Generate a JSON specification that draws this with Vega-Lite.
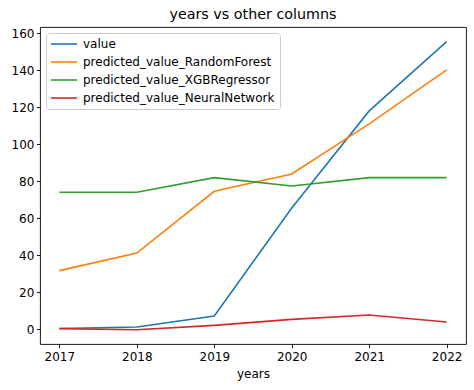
{
  "$schema": "https://vega.github.io/schema/vega-lite/v6.json",
  "width": 426,
  "height": 317,
  "autosize": {"type": "none"},
  "padding": {"left": 40, "top": 27, "right": 8, "bottom": 46},
  "background": "white",
  "title": {"text": "years vs other columns", "fontSize": 14.3, "fontWeight": "normal", "font": "DejaVu Sans", "color": "black", "offset": 5, "anchor": "middle"},
  "config": {
    "view": {"stroke": "black", "strokeWidth": 0.9},
    "axis": {"labelFont": "DejaVu Sans", "titleFont": "DejaVu Sans", "labelFontSize": 12, "titleFontSize": 12, "labelColor": "black", "titleColor": "black", "tickColor": "black", "tickSize": 3.6, "tickWidth": 0.9, "domain": false, "grid": false, "titleFontWeight": "normal"}
  },
  "data": {"values": [
    {"year": 2017, "series": "value", "v": 0.3},
    {"year": 2018, "series": "value", "v": 1.1},
    {"year": 2019, "series": "value", "v": 7.0},
    {"year": 2020, "series": "value", "v": 65.5},
    {"year": 2021, "series": "value", "v": 118},
    {"year": 2022, "series": "value", "v": 155.5},
    {"year": 2017, "series": "predicted_value_RandomForest", "v": 31.6},
    {"year": 2018, "series": "predicted_value_RandomForest", "v": 41.1},
    {"year": 2019, "series": "predicted_value_RandomForest", "v": 74.5},
    {"year": 2020, "series": "predicted_value_RandomForest", "v": 83.9},
    {"year": 2021, "series": "predicted_value_RandomForest", "v": 111},
    {"year": 2022, "series": "predicted_value_RandomForest", "v": 140.2},
    {"year": 2017, "series": "predicted_value_XGBRegressor", "v": 74},
    {"year": 2018, "series": "predicted_value_XGBRegressor", "v": 74},
    {"year": 2019, "series": "predicted_value_XGBRegressor", "v": 81.9},
    {"year": 2020, "series": "predicted_value_XGBRegressor", "v": 77.4},
    {"year": 2021, "series": "predicted_value_XGBRegressor", "v": 81.9},
    {"year": 2022, "series": "predicted_value_XGBRegressor", "v": 81.9},
    {"year": 2017, "series": "predicted_value_NeuralNetwork", "v": 0.2},
    {"year": 2018, "series": "predicted_value_NeuralNetwork", "v": -0.4},
    {"year": 2019, "series": "predicted_value_NeuralNetwork", "v": 2.0},
    {"year": 2020, "series": "predicted_value_NeuralNetwork", "v": 5.2},
    {"year": 2021, "series": "predicted_value_NeuralNetwork", "v": 7.6},
    {"year": 2022, "series": "predicted_value_NeuralNetwork", "v": 3.8}
  ]},
  "mark": {"type": "line", "strokeWidth": 1.6, "clip": true},
  "encoding": {
    "x": {"field": "year", "type": "quantitative", "title": "years",
      "scale": {"domain": [2016.75, 2022.25], "nice": false, "zero": false},
      "axis": {"values": [2017, 2018, 2019, 2020, 2021, 2022], "format": "d", "labelPadding": 4, "titlePadding": 6}},
    "y": {"field": "v", "type": "quantitative", "title": null,
      "scale": {"domain": [-8.1, 163.4], "nice": false, "zero": false},
      "axis": {"values": [0, 20, 40, 60, 80, 100, 120, 140, 160], "labelPadding": 2.5}},
    "color": {"field": "series", "type": "nominal",
      "scale": {"domain": ["value", "predicted_value_RandomForest", "predicted_value_XGBRegressor", "predicted_value_NeuralNetwork"], "range": ["#1f77b4", "#ff7f0e", "#2ca02c", "#d62728"]},
      "legend": {"title": null, "orient": "none", "legendX": 6, "legendY": 6, "symbolType": "M-1.2,0H4.0", "symbolSize": 100, "symbolStrokeWidth": 1.6, "labelFont": "DejaVu Sans", "labelFontSize": 12, "labelColor": "black", "labelOffset": 20, "rowPadding": 6, "padding": 5, "fillColor": "white", "strokeColor": "#cccccc", "cornerRadius": 3, "labelLimit": 300}
    }
  }
}
